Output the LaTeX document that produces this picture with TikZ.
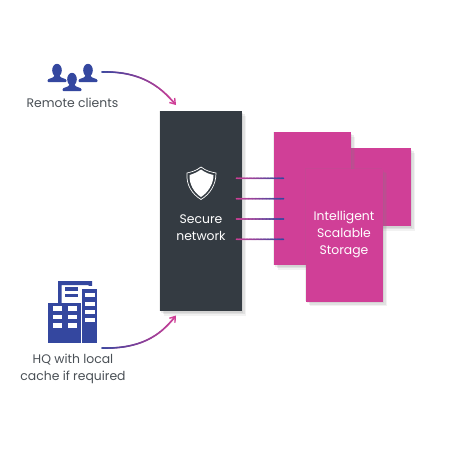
\documentclass[tikz,border=0pt]{standalone}
\usepackage{fontspec}
\setmainfont{Poppins}
\usetikzlibrary{arrows.meta, positioning, calc, shadows, decorations.markings}

\definecolor{slatebg}{HTML}{343B42}
\definecolor{storpink}{HTML}{D03F97}
\definecolor{iconblue}{HTML}{34479F}
\definecolor{labelgrey}{HTML}{4A5056}

\begin{document}
\begin{tikzpicture}[
    x=1pt, y=-1pt,
    font=\fontsize{12.4}{17}\selectfont,
    softshadow/.style={
      drop shadow={opacity=.12, shadow xshift=-1pt, shadow yshift=.5pt},
      drop shadow={opacity=.14, shadow xshift=1pt, shadow yshift=-1.5pt},
      drop shadow={opacity=.14, shadow xshift=2.5pt, shadow yshift=-3pt},
      drop shadow={opacity=.10, shadow xshift=4pt, shadow yshift=-4.5pt}},
    gatebox/.style={fill=slatebg, minimum width=82pt, minimum height=200pt,
      outer sep=0pt, softshadow},
    storbox/.style={fill=storpink, minimum width=77pt, minimum height=133pt,
      outer sep=0pt, softshadow},
    lbl/.style={text=labelgrey, align=center, inner sep=0pt},
    whitelbl/.style={text=white, align=center, inner sep=0pt},
    gradline/.style 2 args={line width=1.8pt, postaction={decorate},
      decoration={markings, mark=between positions 0 and 1 step 0.7pt with {
        \pgfmathsetmacro{\mixval}{100*\pgfkeysvalueof{/pgf/decoration/mark info/distance from start}/\pgfdecoratedpathlength}
        \fill[fill=#2!\mixval!#1] (0,0) circle (0.9pt);}}},
    arr/.style={-{Straight Barb[length=5pt, width=7pt, line width=1.4pt]}, line width=1.4pt, storpink},
    person/.pic={
      \fill[iconblue] (0,-11.8) ellipse (4.8 and 6.4);
      \fill[iconblue, rounded corners=1pt] (-9.5,0) -- (-9.5,-2.5) -- (-3,-5) -- (-2.5,-8)
        -- (2.5,-8) -- (3,-5) -- (9.5,-2.5) -- (9.5,0) -- cycle;
    }
  ]
  \useasboundingbox (0,0) rectangle (450,450);
  \fill[white] (0,0) rectangle (450,450);

  % storage boxes, back to front
  \node[storbox, minimum height=78pt] (diskB) at (372.5,187) {};
  \node[storbox] (diskA) at (312.5,198.5) {};
  \node[gatebox] (gateway) at (201,211) {};
  \node[storbox] (diskC) at (344.5,235) {};

  % gateway and storage texts
  \node[whitelbl] (gatelbl) at (201,227.5) {Secure\\network};
  \node[whitelbl] (storlbl) at (344,234.5) {Intelligent\\Scalable\\Storage};

  % shield
  \filldraw[fill=none, draw=white, line width=.7pt] (201,167) .. controls (196,171) and (191,172) .. (187,173)
    .. controls (186,185) and (192,194) .. (201,199.5)
    .. controls (210,194) and (216,185) .. (216,173)
    .. controls (211,172) and (206,171) .. (201,167) -- cycle;
  \fill[white] (201,169.5) .. controls (197,172.5) and (193,174) .. (189.5,175)
    .. controls (189,184) and (194,192.5) .. (201,197)
    .. controls (208,192.5) and (213.5,184) .. (213.5,175)
    .. controls (209,174) and (205,172.5) .. (201,169.5) -- cycle;

  % links between gateway and storage
  \foreach \dy in {-32.7,-12.3,8,28.3}
    \draw[gradline={storpink}{iconblue}, draw=none] ([shift={(-5.5,\dy)}]gateway.east) -- ([shift={(9.5,\dy+12.5)}]diskA.west);

  % remote clients
  \pic at (57,82) {person};
  \pic at (88,82) {person};
  \pic at (72,91) {person};
  \coordinate (clients) at (102,72);
  \node[lbl] (clientslbl) at (72.5,103) {Remote clients};

  % HQ building
  \fill[iconblue, even odd rule] (58,281) rectangle (92,303) (61.5,285) rectangle (88.5,303);
  \fill[iconblue] (65,287) rectangle (88,290.5);
  \fill[iconblue] (65,294) rectangle (83,297);
  \fill[white] (78,286) rectangle (98,344);
  \fill[iconblue] (48,303) rectangle (81,343);
  \fill[iconblue] (82,289) rectangle (97,343);
  \foreach \wy in {293,301.5,310,318}
    \fill[white] (85,\wy) rectangle (94.5,\wy+4);
  \foreach \wx in {53,68}
    \foreach \wy in {306,314.5,323}
      \fill[white] (\wx,\wy) rectangle (\wx+8.5,\wy+4.5);
  \coordinate (hq) at (102,348);
  \node[lbl] (hqlbl) at (73,368.5) {HQ with local\\cache if required};

  % arrows into the gateway
  \draw[arr] (clients) .. controls (140,71) and (160,86) .. ([shift={(16,-6)}]gateway.north west);
  \draw[gradline={iconblue}{storpink}, draw=none] (clients) .. controls (140,71) and (160,86) .. ([shift={(15,-7)}]gateway.north west);
  \draw[arr] (hq) .. controls (140,349) and (160,336) .. ([shift={(16,4.5)}]gateway.south west);
  \draw[gradline={iconblue}{storpink}, draw=none] (hq) .. controls (140,349) and (160,336) .. ([shift={(15,5.5)}]gateway.south west);
\end{tikzpicture}
\end{document}
